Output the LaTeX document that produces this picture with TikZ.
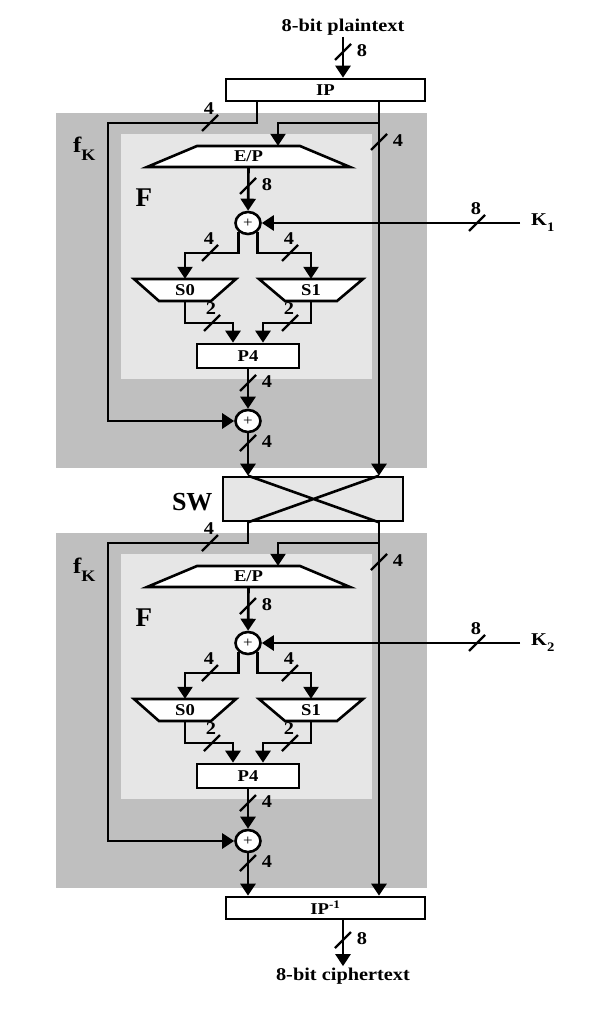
\documentclass[tikz,border=0pt]{standalone}
\usepackage{fontspec}
\setmainfont{Liberation Serif}[FakeStretch=1.13]
\newfontfamily\bigfont{Liberation Serif}
\usetikzlibrary{arrows.meta,calc,shapes.geometric}
\definecolor{fkgray}{RGB}{191,191,191}
\definecolor{fgray}{RGB}{230,230,230}

\tikzset{
  wire/.style={line width=2.6pt},
  arr/.style={wire, -{Triangle[length=12pt,width=15pt]}},
  lbl/.style={font=\fontsize{18}{20}\selectfont\bfseries, inner sep=1.5pt},
  boxtext/.style={inner sep=0pt, font=\fontsize{16.5}{18}\selectfont\bfseries},
  blk/.style={boxtext, draw, line width=2.6pt, fill=white},
  xor/.style={draw, line width=2.6pt, fill=white, ellipse, minimum width=25pt, minimum height=22pt, inner sep=0pt, font=\fontsize{15}{15}\selectfont},
  tick/.style={line width=2.4pt}
}

\begin{document}
\begin{tikzpicture}[x=1pt, y=-1pt]
\useasboundingbox (0,0) rectangle (593,1011);
\fill[white] (0,0) rectangle (593,1011);

\node[lbl] (plain) at (343,27) {8-bit plaintext};
\node[blk, minimum width=199pt, minimum height=22pt] (ip) at (325.5,90) {IP};
\node[blk, fill=fgray, minimum width=180pt, minimum height=44pt] (sw) at (313,499) {};
\node[anchor=base east, font=\bigfont\fontsize{26}{28}\selectfont\bfseries] (swname) at (216,510) {SW};
\node[blk, minimum width=199pt, minimum height=22pt] (ipinv) at (325.5,908) {IP\textsuperscript{-1}};
\node[lbl] (cipher) at (343,976) {8-bit ciphertext};
\draw[wire] ([xshift=-65pt]sw.north) -- ([xshift=66pt]sw.south)
            ([xshift=66pt]sw.north) -- ([xshift=-65pt]sw.south);
\draw[arr] (plain) -- (plain |- ip.north);
\draw[arr] (ipinv.south -| cipher) -- (cipher);
\draw[tick] (343,52) ++(-8,8) -- ++(16,-16);
\node[lbl] (b0) at (362,51) {8};
\draw[tick] (343,940) ++(-8,8) -- ++(16,-16);
\node[lbl] (b00) at (362,939) {8};

\foreach \s/\d/\src/\lx/\dst in {1/0/ip/257/sw, 2/420/sw/248/ipinv} {
  \fill[fkgray] (56,113+\d) rectangle (427,468+\d);
  \fill[fgray] (121,134+\d) rectangle (372,379+\d);
  \node[anchor=base west, font=\fontsize{22}{24}\selectfont\bfseries, inner sep=0pt] (fk\s) at (73,153+\d) {f\raisebox{-8pt}{\fontsize{16}{16}\selectfont K}};
  \node[anchor=base west, font=\bigfont\fontsize{27}{30}\selectfont\bfseries] (fn\s) at (132,206+\d) {F};
  % E/P, S0 and S1 outlines
  \draw[wire, fill=white] (197,146+\d) -- (300,146+\d) -- (350,167+\d) -- (147,167+\d) -- cycle;
  \draw[wire, fill=white] (134,279+\d) -- (236,279+\d) -- (211,301+\d) -- (159,301+\d) -- cycle;
  \draw[wire, fill=white] (259,279+\d) -- (363,279+\d) -- (337,301+\d) -- (285,301+\d) -- cycle;
  \node[boxtext, minimum width=103pt, minimum height=21pt] (ep\s) at (248.5,156.5+\d) {E/P};
  \node[boxtext, minimum width=52pt, minimum height=22pt] (sa\s) at (185,290+\d) {S0};
  \node[boxtext, minimum width=52pt, minimum height=22pt] (sb\s) at (311,290+\d) {S1};
  \node[xor] (xa\s) at (248,223+\d) {+};
  \node[blk, minimum width=102pt, minimum height=24pt] (p4\s) at (248,356+\d) {P4};
  \node[xor] (xb\s) at (248,421+\d) {+};
  \node[lbl, anchor=west, inner xsep=11pt] (key\s) at (520,223+\d) {K\raisebox{-6pt}{\fontsize{13}{13}\selectfont\s}};
  \coordinate (l\s) at (\lx,123+\d);
  \coordinate (r\s) at (379,123+\d);
  \coordinate (sp\s) at (248,253+\d);
  \coordinate (mg\s) at (248,323+\d);
  % the two halves
  \draw[arr] (\src.south -| l\s) -- (l\s) -- (108,123+\d) |- (xb\s);
  \draw[arr] (\src.south -| r\s) -- (r\s |- \dst.north);
  \draw[arr] (r\s) -| ($(ep\s.north)+(29.5,0)$);
  % inside F
  \draw[arr] (ep\s.south) -- (xa\s);
  \draw[arr] (key\s.west) -- (xa\s);
  \draw[arr] (xa\s.south west) -- (xa\s.south west |- sp\s) -| (sa\s.north);
  \draw[arr] (xa\s.south east) -- (xa\s.south east |- sp\s) -| (sb\s.north);
  \draw[arr] (sa\s.south) -- (sa\s.south |- mg\s) -| ($(p4\s.north)+(-15,0)$);
  \draw[arr] (sb\s.south) -- (sb\s.south |- mg\s) -| ($(p4\s.north)+(15,0)$);
  \draw[arr] (p4\s) -- (xb\s);
  \draw[arr] (xb\s) -- (xb\s |- \dst.north);
  % bus widths
  \foreach \x/\y/\n [count=\i] in {379/142/4, 248/186/8, 248/383/4, 248/443/4} {
    \draw[tick] (\x,\y+\d) ++(-8,8) -- ++(16,-16);
    \node[lbl] (v\s\i) at (\x+19,\y-1+\d) {\n};
  }
  \foreach \x/\y/\n [count=\i] in {210/123/4, 477/223/8, 210/253/4, 290/253/4, 212/323/2, 290/323/2} {
    \draw[tick] (\x,\y+\d) ++(-8,8) -- ++(16,-16);
    \node[lbl] (h\s\i) at (\x-1,\y-14+\d) {\n};
  }
}
\end{tikzpicture}
\end{document}
